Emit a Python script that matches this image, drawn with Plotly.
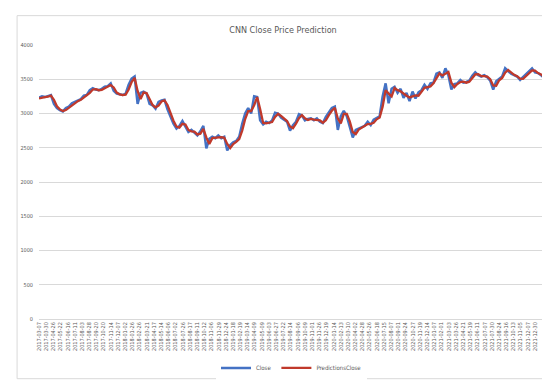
import numpy as np
import plotly.graph_objects as go

# Close values (equally spaced samples across the date range)
close = [3230,3250,3240,3260,3270,3140,3080,3050,3030,3080,3100,3150,3170,3200,3210,3260,3270,3340,3370,3350,
         3340,3360,3390,3400,3440,3330,3290,3280,3270,3290,3420,3510,3540,3140,3300,3320,3290,3140,3120,3070,
         3170,3190,3200,3060,2950,2850,2780,2820,2890,2800,2730,2760,2720,2680,2740,2820,2490,2630,2660,2640,
         2680,2640,2660,2460,2540,2580,2600,2660,2850,3000,3080,3000,3250,3240,2900,2840,2880,2860,2900,3010,
         3000,2940,2910,2880,2750,2830,2880,2990,2970,2900,2920,2930,2900,2930,2880,2860,2950,3010,3080,3100,
         2760,2960,3040,2960,2820,2650,2760,2780,2810,2820,2880,2830,2910,2930,2960,3250,3440,3150,3360,3390,
         3300,3360,3230,3300,3180,3320,3220,3310,3340,3420,3360,3440,3450,3580,3600,3520,3660,3560,3350,3430,
         3440,3490,3450,3460,3480,3550,3600,3560,3540,3560,3530,3480,3350,3470,3510,3540,3660,3620,3580,3560,
         3540,3490,3530,3580,3610,3660,3600,3590,3560,3520]

# Prediction values (red line, slightly lagging)
pred = [3220,3235,3240,3245,3260,3200,3105,3060,3035,3050,3085,3120,3155,3180,3200,3230,3260,3300,3350,3355,
        3340,3345,3370,3390,3415,3380,3305,3280,3270,3275,3350,3460,3520,3330,3210,3305,3300,3210,3125,3090,
        3115,3175,3190,3125,3000,2895,2810,2795,2850,2840,2760,2740,2735,2695,2705,2775,2650,2555,2640,2645,
        2655,2655,2645,2555,2495,2555,2585,2625,2750,2920,3035,3035,3120,3240,3065,2865,2855,2865,2875,2950,
        2995,2965,2920,2890,2810,2785,2850,2930,2975,2930,2905,2920,2910,2910,2900,2865,2900,2975,3040,3085,
        2925,2855,2995,2995,2885,2730,2700,2765,2790,2810,2845,2850,2865,2915,2940,3100,3340,3290,3250,3370,
        3340,3325,3290,3260,3235,3245,3265,3260,3320,3375,3385,3395,3440,3510,3585,3555,3585,3605,3450,3385,
        3430,3460,3465,3450,3465,3510,3570,3575,3545,3545,3540,3500,3410,3405,3485,3520,3595,3635,3595,3565,
        3545,3510,3505,3550,3590,3630,3625,3590,3570,3535]

tick_labels = [
    "2017-03-07","2017-03-30","2017-04-26","2017-05-22","2017-06-16","2017-07-11","2017-08-03","2017-08-28",
    "2017-09-20","2017-10-20","2017-11-14","2017-12-07","2018-01-02","2018-01-26","2018-02-26","2018-03-21",
    "2018-04-17","2018-05-14","2018-06-06","2018-07-02","2018-07-26","2018-08-17","2018-09-11","2018-10-12",
    "2018-11-06","2018-11-29","2018-12-24","2019-01-18","2019-02-19","2019-03-14","2019-04-09","2019-05-09",
    "2019-06-03","2019-06-27","2019-07-22","2019-08-14","2019-09-06","2019-10-09","2019-11-01","2019-11-26",
    "2019-12-19","2020-01-14","2020-02-13","2020-03-10","2020-04-02","2020-04-28","2020-05-26","2020-06-18",
    "2020-07-15","2020-08-07","2020-09-01","2020-09-24","2020-10-27","2020-11-19","2020-12-14","2021-01-07",
    "2021-02-01","2021-03-03","2021-03-26","2021-04-21","2021-05-19","2021-06-11","2021-07-07","2021-07-30",
    "2021-08-24","2021-09-16","2021-10-13","2021-11-05","2021-12-07","2021-12-30"]

# x in units of tick-label intervals; data runs slightly past the last label
span = 70.24
x = np.linspace(0, span, len(close))
xp = np.linspace(0, span, len(pred))
tickvals = list(range(len(tick_labels)))

FONT = "Liberation Sans Narrow, DejaVu Sans Condensed, Liberation Sans, sans-serif"
TICKFONT = "DejaVu Sans Condensed, Liberation Sans Narrow, sans-serif"
GRAY = "#595959"
GRID = "#D9D9D9"

fig = go.Figure()
fig.add_trace(go.Scatter(x=x, y=close, mode="lines", name="Close",
                         line=dict(color="#4472C4", width=2.5)))
fig.add_trace(go.Scatter(x=xp, y=pred, mode="lines", name="PredictionsClose",
                         line=dict(color="#C0392B", width=2.3)))

L, R, T, B = 29, 14, 37, 70
W, H = 550, 387
pw, ph = W - L - R, H - T - B

fig.update_layout(
    width=W, height=H,
    margin=dict(l=L, r=R, t=T, b=B),
    paper_bgcolor="white", plot_bgcolor="white",
    font=dict(family=FONT, color=GRAY, size=7),
    title=dict(text="CNN Close Price Prediction", x=0.5, xanchor="center",
               y=1 - 22 / H, yanchor="middle",
               font=dict(family=FONT, size=9, color=GRAY)),
    showlegend=True,
    legend=dict(orientation="h", x=0.5, xanchor="center",
                y=-(367 - (H - B)) / ph, yanchor="middle",
                font=dict(family=TICKFONT, size=6, color=GRAY),
                itemwidth=30, tracegroupgap=0),
    xaxis=dict(range=[0, span], tickmode="array", tickvals=tickvals, ticktext=tick_labels,
               tickangle=-90, tickfont=dict(size=5.5, color=GRAY, family=TICKFONT),
               showgrid=False, zeroline=False, showline=True, linecolor=GRID, linewidth=1,
               ticks=""),
    yaxis=dict(range=[0, 4000], dtick=500, tickfont=dict(size=5.5, color=GRAY, family=TICKFONT),
               showgrid=True, gridcolor=GRID, gridwidth=1, zeroline=False,
               showline=False, ticks="", ticklabelstandoff=5),
    shapes=[dict(type="rect", xref="paper", yref="paper",
                 x0=(7 - L) / pw, x1=(543 - L) / pw,
                 y0=-(378 - (H - B)) / ph, y1=1 + (T - 7) / ph,
                 line=dict(color=GRID, width=1), fillcolor="rgba(0,0,0,0)", layer="below")],
)

fig.write_html("out.html")
